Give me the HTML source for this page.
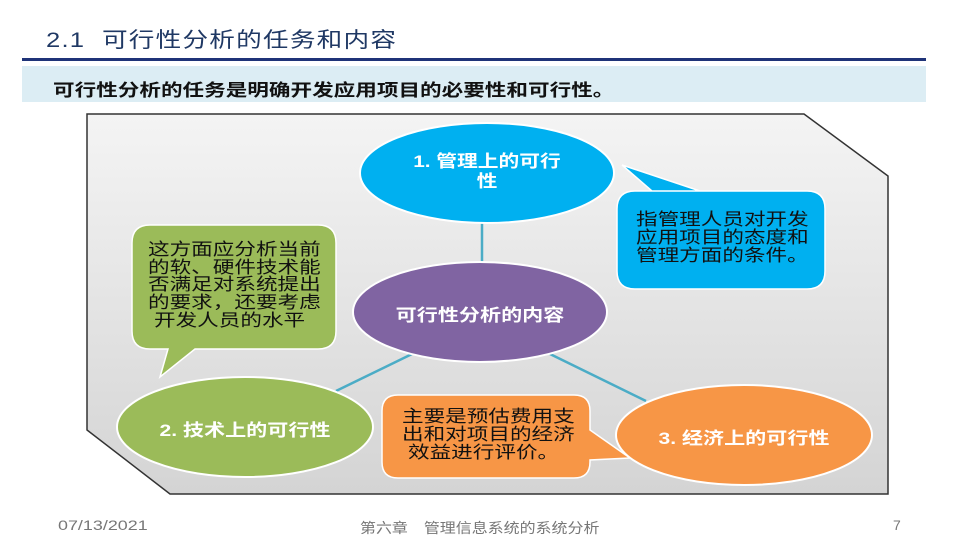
<!DOCTYPE html>
<html><head><meta charset="utf-8"><style>
body{margin:0;width:960px;height:540px;background:#fff;position:relative;overflow:hidden;font-family:"Liberation Sans","Noto Sans CJK SC",sans-serif}
.t{position:absolute;white-space:nowrap;transform-origin:0 0}
.c{position:absolute;white-space:nowrap;transform-origin:50% 0}
</style></head><body>
<div class="t" style="left:46px;top:24px;font-size:21px;color:#1f3864;letter-spacing:1px;transform:scaleX(1.22)">2.1&nbsp;&nbsp;可行性分析的任务和内容</div>
<div style="position:absolute;left:22px;top:58px;width:904px;height:3px;background:#1f3378"></div>
<div style="position:absolute;left:22px;top:66px;width:904px;height:36px;background:#dcedf4"></div>
<div class="t" style="left:53px;top:76px;font-size:17px;font-weight:bold;color:#111;transform:scaleX(1.27)">可行性分析的任务是明确开发应用项目的必要性和可行性。</div>
<svg width="960" height="540" style="position:absolute;left:0;top:0">
<defs><linearGradient id="g" x1="0" y1="0" x2="0" y2="1"><stop offset="0" stop-color="#f4f4f4"/><stop offset="1" stop-color="#d4d4d4"/></linearGradient></defs>
<polygon points="87,114 804,114 888,176 888,494 170,494 87,430" fill="url(#g)" stroke="#333" stroke-width="1.5"/>
<g stroke="#4bacc6" stroke-width="2.5">
<line x1="482" y1="222" x2="482" y2="263"/>
<line x1="412" y1="354" x2="336" y2="391"/>
<line x1="550" y1="354" x2="646" y2="401"/>
</g>
<ellipse cx="487" cy="173" rx="127" ry="50" fill="#00b0f0" stroke="#fff" stroke-width="2"/>
<ellipse cx="480" cy="312" rx="127" ry="50" fill="#8064a2" stroke="#fff" stroke-width="2"/>
<ellipse cx="245" cy="427" rx="128" ry="50" fill="#9bbb59" stroke="#fff" stroke-width="2"/>
<ellipse cx="744" cy="435" rx="128" ry="50" fill="#f79646" stroke="#fff" stroke-width="2"/>
<path d="M150,225 H318 Q336,225 336,243 V331 Q336,349 318,349 H195 L160,377 L168,349 H150 Q132,349 132,331 V243 Q132,225 150,225Z" fill="#9bbb59" stroke="#fff" stroke-width="1.5"/>
<path d="M635,191 H807 Q825,191 825,209 V271 Q825,289 807,289 H635 Q617,289 617,271 V209 Q617,191 635,191 H652 L622,165 L700,191Z" fill="#00b0f0" stroke="#fff" stroke-width="1.5"/>
<path d="M398,395 H574 Q590,395 590,411 V430 L630,458 L590,460 V462 Q590,478 574,478 H398 Q382,478 382,462 V411 Q382,395 398,395Z" fill="#f79646" stroke="#fff" stroke-width="1.5"/>
</svg>
<div class="c" style="left:387px;width:200px;top:152px;text-align:center;color:#fff;font-weight:bold;font-size:17px;line-height:20px;transform:scaleX(1.22)">1. 管理上的可行<br>性</div>
<div class="c" style="left:380px;width:200px;text-align:center;top:301px;color:#fff;font-weight:bold;font-size:17px;transform:scaleX(1.24)">可行性分析的内容</div>
<div class="c" style="left:145px;width:200px;text-align:center;top:416px;color:#fff;font-weight:bold;font-size:17px;transform:scaleX(1.24)">2. 技术上的可行性</div>
<div class="c" style="left:644px;width:200px;text-align:center;top:424px;color:#fff;font-weight:bold;font-size:17px;transform:scaleX(1.24)">3. 经济上的可行性</div>
<div class="t" style="left:148px;top:241px;font-size:17px;line-height:17.7px;color:#111;transform:scaleX(1.27)">这方面应分析当前<br>的软、硬件技术能<br>否满足对系统提出<br>的要求，还要考虑<br>&nbsp;开发人员的水平</div>
<div class="t" style="left:636px;top:211px;font-size:17px;line-height:18px;color:#111;transform:scaleX(1.27)">指管理人员对开发<br>应用项目的态度和<br>管理方面的条件。</div>
<div class="t" style="left:402px;top:408px;font-size:17px;line-height:18px;color:#111;transform:scaleX(1.27)">主要是预估费用支<br>出和对项目的经济<br>&nbsp;效益进行评价。</div>
<div class="t" style="left:58px;top:517px;font-size:14px;color:#777;transform:scaleX(1.28)">07/13/2021</div>
<div class="t" style="left:360px;top:518px;font-size:14px;color:#777;transform:scaleX(1.14)">第六章　管理信息系统的系统分析</div>
<div class="t" style="left:893px;top:517px;font-size:14px;color:#777">7</div>
</body></html>
